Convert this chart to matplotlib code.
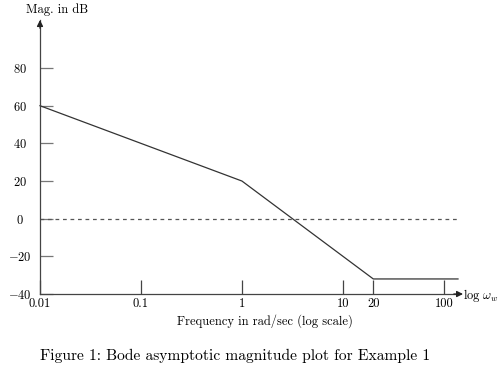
import matplotlib
matplotlib.use("Agg")
import matplotlib.pyplot as plt
from matplotlib.ticker import FixedLocator, FixedFormatter, NullLocator

plt.rcParams['font.family'] = ['cmr10', 'DejaVu Serif']
plt.rcParams['mathtext.fontset'] = 'cm'
plt.rcParams['axes.unicode_minus'] = False

# Data
freq = [0.01, 1, 20, 138]
mag_db = [60, 20, -32, -32]
zero_freq = [0.01, 138]
zero_db = [0, 0]
x_ticks = [0.01, 0.1, 1, 10, 20, 100]
x_tick_labels = ['0.01', '0.1', '1', '10', '20', '100']
y_ticks = [-40, -20, 0, 20, 40, 60, 80]
y_tick_labels = ['$-40$', '$-20$', '$0$', '$20$', '$40$', '$60$', '$80$']

fig = plt.figure(figsize=(5, 3.71), dpi=100)
ax = fig.add_axes([0.08, 0.2075, 0.836, 0.7385])
ax.set_xscale('log')
ax.set_xlim(0.01, 138)
ax.set_ylim(-40, 105.5)

col = '#333333'
ax.plot(freq, mag_db, color=col, lw=0.9, clip_on=False)
ax.plot(zero_freq, zero_db, color='#555555', lw=0.9, ls=(0, (3, 3)), clip_on=False)

for s in ['top', 'right']:
    ax.spines[s].set_visible(False)
for s in ['left', 'bottom']:
    ax.spines[s].set_color('#444444')
    ax.spines[s].set_linewidth(0.9)

ax.xaxis.set_major_locator(FixedLocator(x_ticks))
ax.xaxis.set_major_formatter(FixedFormatter(x_tick_labels))
ax.xaxis.set_minor_locator(NullLocator())
ax.yaxis.set_major_locator(FixedLocator(y_ticks))
ax.yaxis.set_major_formatter(FixedFormatter(y_tick_labels))
ax.tick_params(axis='x', direction='in', length=10, width=0.9, color='#444444',
               labelsize=9, pad=3)
ax.tick_params(axis='y', direction='in', length=9, width=0.9, color='#777777',
               labelsize=9, pad=14.4)
for lab in ax.get_yticklabels():
    lab.set_horizontalalignment('center')

# arrows
ax.annotate('', xy=(1.012, 0), xycoords='axes fraction', xytext=(0.99, 0),
            arrowprops=dict(arrowstyle='-|>', color='#222222', lw=0.9,
                            mutation_scale=9, shrinkA=0, shrinkB=0))
ax.annotate('', xy=(0, 1.0), xycoords='axes fraction', xytext=(0, 0.97),
            arrowprops=dict(arrowstyle='-|>', color='#222222', lw=0.9,
                            mutation_scale=9, shrinkA=0, shrinkB=0))

fig.text(463/500, 1 - 296/371, r'$\log\,\omega_w$', fontsize=9, va='center', ha='left')
fig.text(57/500, 1 - 10/371, 'Mag. in dB', fontsize=9, ha='center', va='center')
fig.text(265/500, 1 - 321/371, 'Frequency in rad/sec (log scale)', fontsize=9,
         ha='center', va='center')
fig.text(40/500, 1 - 356/371, 'Figure 1: Bode asymptotic magnitude plot for Example 1',
         fontsize=11.2, ha='left', va='center')

fig.savefig('out.png', dpi=100)
